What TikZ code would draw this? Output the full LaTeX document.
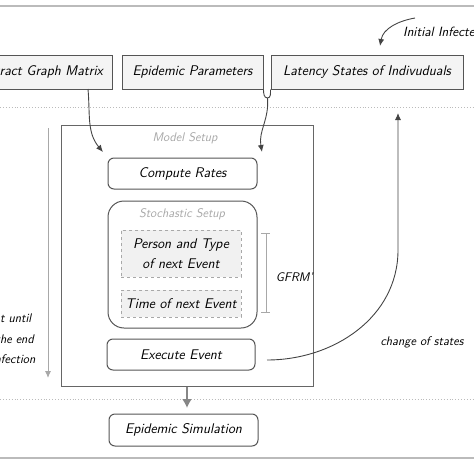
\documentclass[tikz,border=0pt]{standalone}
\usetikzlibrary{arrows.meta}
\definecolor{boxline}{HTML}{555555}
\definecolor{msline}{HTML}{666666}
\definecolor{lightfill}{HTML}{F4F4F4}
\definecolor{dashfill}{HTML}{F1F1F1}
\definecolor{sepcol}{HTML}{BBBBBB}
\definecolor{arrcol}{HTML}{444444}
\definecolor{labgray}{HTML}{A8A8A8}
\begin{document}
\begin{tikzpicture}[x=1pt,y=-1pt,
  every node/.style={font=\fontsize{14}{20}\selectfont\sffamily\itshape, inner sep=0pt},
  topbox/.style={draw=boxline, line width=1pt, fill=lightfill, minimum height=34pt},
  roundbox/.style={draw=boxline, line width=1pt, rounded corners=6pt, minimum width=149pt, minimum height=31pt},
  dashbox/.style={draw=labgray, dashed, line width=0.9pt, fill=dashfill, minimum width=120pt, align=center},
  small/.style={font=\fontsize{12.5}{20}\selectfont\sffamily\itshape},
  graylab/.style={small, text=labgray},
  arr/.style={draw=arrcol, line width=0.9pt, -{Latex[length=7pt,width=6pt]}},
  sep/.style={draw=sepcol, line width=1.5pt},
  dotsep/.style={draw=sepcol, line width=0.9pt, dotted}
]
\useasboundingbox (0,0) rectangle (474,474);
\clip (0,0) rectangle (474,474);
% separators
\draw[sep] (0,6) -- (474,6);
\draw[sep] (0,458) -- (474,458);
\draw[dotsep] (0,107) -- (474,107);
\draw[dotsep] (0,399) -- (474,399);
% top boxes
\node[topbox, anchor=east, minimum width=150pt] (gm) at (113,72) {Contract Graph Matrix};
\node[topbox, minimum width=141pt] (ep) at (192.5,72) {Epidemic Parameters};
\node[topbox, minimum width=192pt] (ls) at (367,72) {Latency States of Indivuduals};
\node[font=\fontsize{13.4}{20}\selectfont\sffamily\itshape, anchor=west] (init) at (403,32) {Initial Infected};
\coordinate (initstart) at (415,18);
\coordinate (inittip) at (380,46);
\draw[arr] (initstart) to[out=190,in=80] (inittip);
% model setup
\node[draw=msline, line width=1pt, minimum width=252pt, minimum height=261pt] (ms) at (187,255.5) {};
\node[graylab] (mslab) at (185,138) {Model Setup};
\node[roundbox] (cr) at (182.5,173.5) {Compute Rates};
\node[draw=boxline, line width=1pt, rounded corners=16pt, minimum width=149pt, minimum height=127pt] (ss) at (182.5,264.5) {};
\node[graylab] (sslab) at (182,214) {Stochastic Setup};
\node[dashbox, minimum height=47pt] (pt) at (181,253.5) {Person and Type\\of next Event};
\node[dashbox, minimum height=27pt] (tn) at (181,303.5) {Time of next Event};
\node[roundbox, minimum width=148pt] (ee) at (181,354.5) {Execute Event};
% bracket
\coordinate (bt) at (266,233);
\coordinate (bb) at (266,312);
\draw[draw=labgray, line width=0.9pt] (261,233) -- (270,233) (bt) -- (bb) (261,312) -- (270,312);
\node[small] (gfrm) at (294.5,277) {GFRM'};
% arrows from top boxes
\coordinate (gmout) at (88,89);
\coordinate (crin1) at (103,152);
\draw[arr] (gmout) to[out=-85,in=130] (crin1);
\coordinate (merge) at (267.5,98);
\coordinate (crin2) at (262,152);
\draw[draw=arrcol, line width=0.9pt] (ep.south east) to[out=-90,in=180] (merge) to[out=0,in=-90] (ls.south west);
\draw[arr] (merge) to[out=-85,in=100] (crin2);
% change of states
\coordinate (eeout) at (267,360);
\coordinate (mid) at (398,250);
\coordinate (lstip) at (398,113);
\draw[arr] (eeout) to[out=0,in=-90] (mid) -- (lstip);
\node[small] (cos) at (422,342) {change of states};
% repeat arrow
\coordinate (rpstart) at (48,128);
\coordinate (rpend) at (48,378);
\draw[draw=labgray, line width=0.9pt, -{Latex[length=7pt,width=6pt]}] (rpstart) -- (rpend);
\node[small, anchor=east] (rep1) at (31.5,319) {Repeat until};
\node[small, anchor=east] (rep2) at (34,339) {the end};
\node[small, anchor=east] (rep3) at (35.5,359) {of infection};
% to simulation
\coordinate (simtip) at (187,408);
\draw[draw=labgray!80!black, line width=2pt, -{Latex[length=9pt,width=10pt]}] (ms.south -| simtip) -- (simtip);
\node[roundbox, minimum height=32pt] (es) at (183.5,430) {Epidemic Simulation};
\end{tikzpicture}
\end{document}
